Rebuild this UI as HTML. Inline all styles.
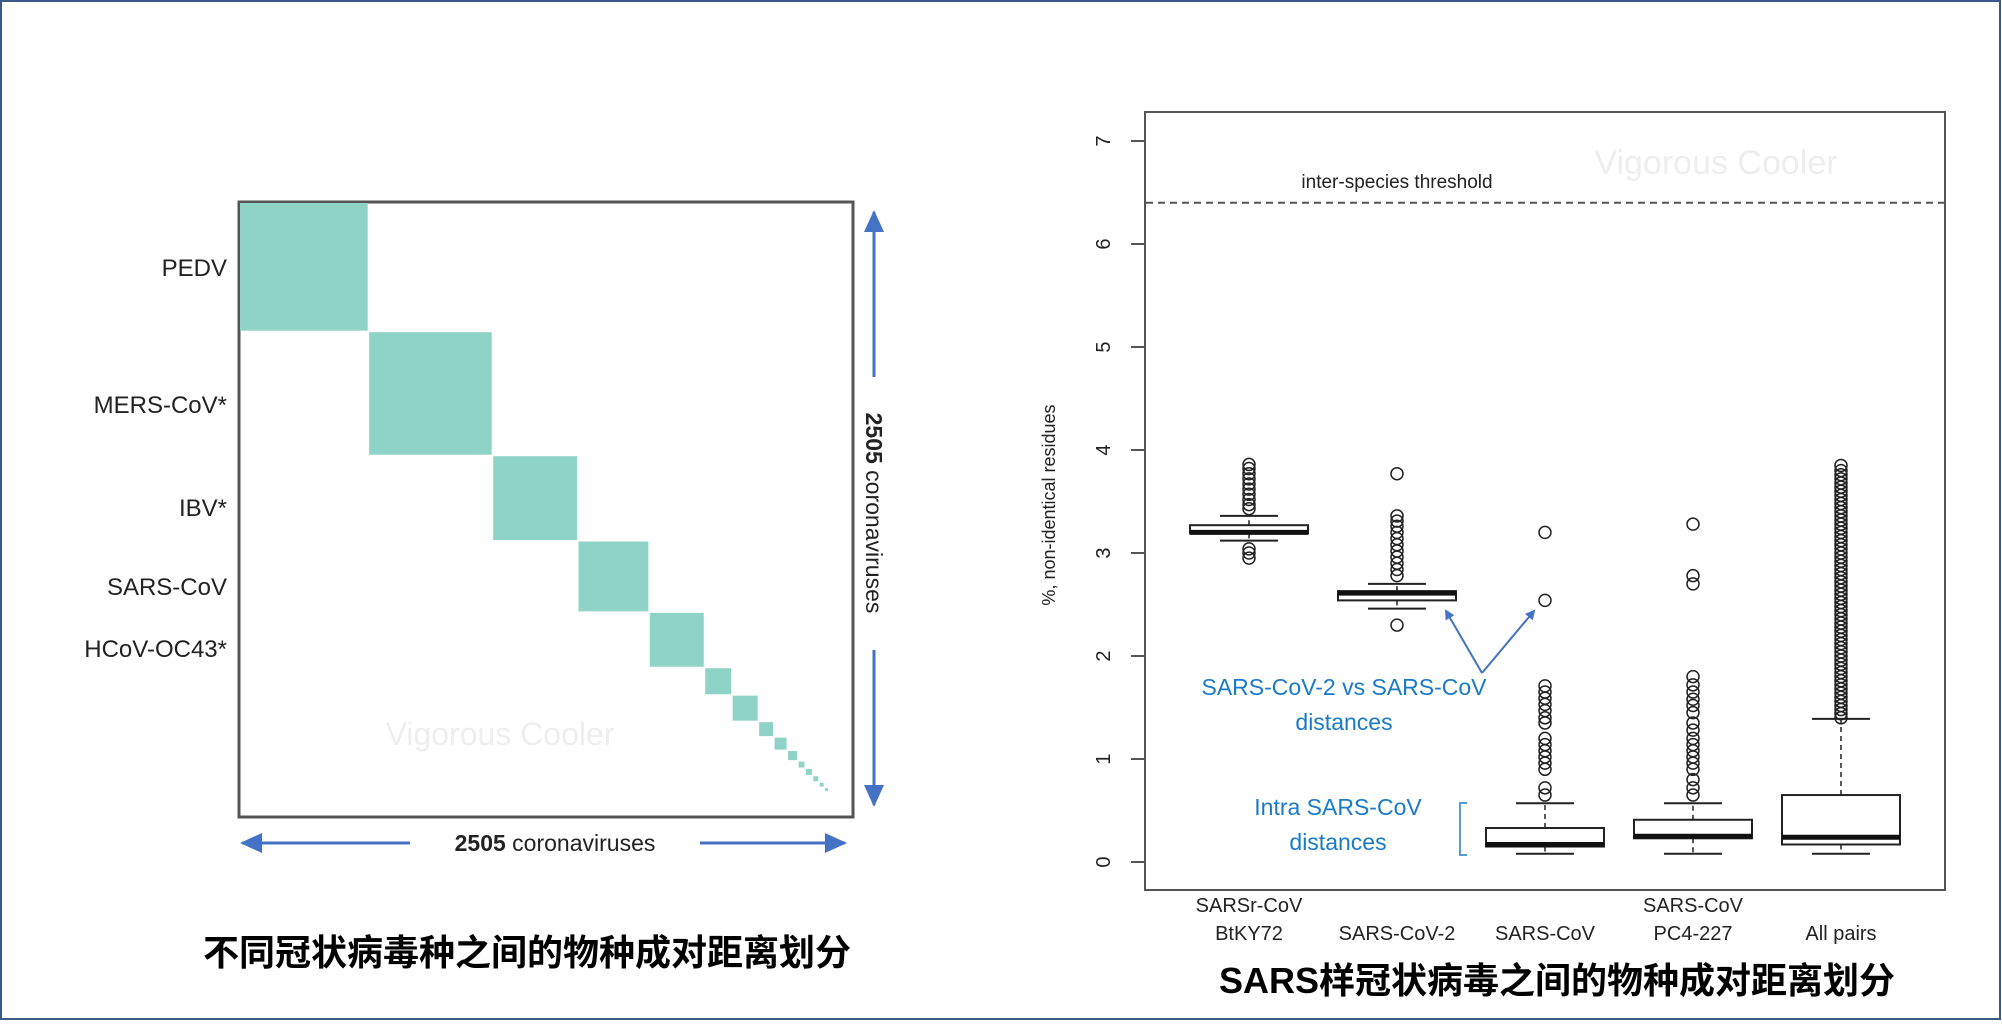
<!DOCTYPE html>
<html><head><meta charset="utf-8"><style>
html,body{margin:0;padding:0;background:#fff;}
svg{display:block;font-family:"Liberation Sans","Noto Sans CJK SC",sans-serif;}
</style></head><body>
<svg id="fig" width="2002" height="1026" viewBox="0 0 2002 1026" xmlns="http://www.w3.org/2000/svg">
<defs>
<marker id="ah" markerWidth="10" markerHeight="10" refX="8" refY="5" orient="auto" markerUnits="userSpaceOnUse"><path d="M0,0 L10,5 L0,10 z" fill="#4472c4"/></marker>
<marker id="ahb" markerWidth="24" markerHeight="24" refX="20" refY="10" orient="auto" markerUnits="userSpaceOnUse"><path d="M0,0 L22,10 L0,20 z" fill="#4472c4"/></marker>
</defs>
<rect x="1" y="1" width="1999" height="1018" fill="none" stroke="#3b5a8a" stroke-width="2"/>

<g id="left">
<rect x="239" y="202" width="614" height="615" fill="none" stroke="#555" stroke-width="3"/>
<g id="squares"></g>
<text x="227" y="276" text-anchor="end" font-size="24" fill="#222">PEDV</text>
<text x="227" y="413" text-anchor="end" font-size="24" fill="#222">MERS-CoV*</text>
<text x="227" y="516" text-anchor="end" font-size="24" fill="#222">IBV*</text>
<text x="227" y="595" text-anchor="end" font-size="24" fill="#222">SARS-CoV</text>
<text x="227" y="657" text-anchor="end" font-size="24" fill="#222">HCoV-OC43*</text>
<text x="500" y="745" text-anchor="middle" font-size="32" fill="#eee">Vigorous Cooler</text>
<line x1="874" y1="377" x2="874" y2="212" stroke="#4472c4" stroke-width="3" marker-end="url(#ahb)"/>
<line x1="874" y1="650" x2="874" y2="805" stroke="#4472c4" stroke-width="3" marker-end="url(#ahb)"/>
<text transform="translate(866,513) rotate(90)" text-anchor="middle" font-size="23" fill="#222"><tspan font-weight="bold">2505</tspan> coronaviruses</text>
<line x1="410" y1="843" x2="242" y2="843" stroke="#4472c4" stroke-width="3" marker-end="url(#ahb)"/>
<line x1="700" y1="843" x2="845" y2="843" stroke="#4472c4" stroke-width="3" marker-end="url(#ahb)"/>
<text x="555" y="851" text-anchor="middle" font-size="23" fill="#222"><tspan font-weight="bold">2505</tspan> coronaviruses</text>
<text x="527" y="965" text-anchor="middle" font-size="36" font-weight="bold" fill="#000">不同冠状病毒种之间的物种成对距离划分</text>
</g>

<g id="right">
<rect x="1145" y="112" width="800" height="778" fill="none" stroke="#555" stroke-width="2"/>
<text x="1716" y="174" text-anchor="middle" font-size="34" fill="#eee">Vigorous Cooler</text>
<g id="yaxis"></g>
<text transform="translate(1055,505) rotate(-90)" text-anchor="middle" font-size="18" fill="#222">%, non-identical residues</text>
<line id="thr" x1="1146" x2="1944" stroke="#555" stroke-width="2" stroke-dasharray="7,5"/>
<text x="1397" y="188" text-anchor="middle" font-size="19" fill="#222">inter-species threshold</text>
<g id="boxes"></g>
<g id="xlabels"></g>
<text x="1344" y="695" text-anchor="middle" font-size="23" fill="#1a7ac8">SARS-CoV-2 vs SARS-CoV</text>
<text x="1344" y="730" text-anchor="middle" font-size="23" fill="#1a7ac8">distances</text>
<text x="1338" y="815" text-anchor="middle" font-size="23" fill="#1a7ac8">Intra SARS-CoV</text>
<text x="1338" y="850" text-anchor="middle" font-size="23" fill="#1a7ac8">distances</text>
<path d="M1467,803 L1460,803 L1460,855 L1467,855" fill="none" stroke="#5b9bd5" stroke-width="2"/>
<line x1="1482" y1="673" x2="1446" y2="611" stroke="#4472c4" stroke-width="2" marker-end="url(#ah)"/>
<line x1="1482" y1="673" x2="1534" y2="611" stroke="#4472c4" stroke-width="2" marker-end="url(#ah)"/>
<text x="1557" y="993" text-anchor="middle" font-size="36" font-weight="bold" fill="#000">SARS样冠状病毒之间的物种成对距离划分</text>
</g>
</svg>
<script>
const NS="http://www.w3.org/2000/svg";
const blockSizes=[521,500,342,285,220,106,102,57,49,37,24,24,20,16,12];
const totalViruses=2505;
const categories=[["SARSr-CoV","BtKY72"],["SARS-CoV-2"],["SARS-CoV"],["SARS-CoV","PC4-227"],["All pairs"]];
const q1=[3.19,2.54,0.15,0.23,0.17];
const medians=[3.20,2.61,0.17,0.25,0.24];
const q3=[3.27,2.63,0.33,0.41,0.65];
const whiskLo=[3.12,2.46,0.08,0.08,0.08];
const whiskHi=[3.36,2.70,0.57,0.57,1.39];
const outliers=[
 [2.95,3.00,3.04,3.43,3.47,3.52,3.57,3.62,3.67,3.72,3.77,3.82,3.86],
 [2.30,2.78,2.84,2.90,2.96,3.02,3.08,3.14,3.20,3.26,3.31,3.36,3.77],
 [0.65,0.72,0.90,0.96,1.02,1.08,1.14,1.20,1.35,1.40,1.47,1.53,1.59,1.65,1.71,2.54,3.20],
 [0.65,0.72,0.80,0.90,0.96,1.02,1.08,1.14,1.20,1.28,1.35,1.45,1.52,1.58,1.65,1.72,1.80,2.70,2.78,3.28],
 [1.40,1.44,1.48,1.52,1.56,1.60,1.64,1.68,1.72,1.76,1.80,1.84,1.88,1.92,1.96,2.00,2.04,2.08,2.12,2.16,2.20,2.24,2.28,2.32,2.36,2.40,2.44,2.48,2.52,2.56,2.60,2.64,2.68,2.72,2.76,2.80,2.84,2.88,2.92,2.96,3.00,3.04,3.08,3.12,3.16,3.20,3.24,3.28,3.32,3.36,3.40,3.44,3.48,3.52,3.56,3.60,3.64,3.68,3.72,3.76,3.80,3.85]
];
const yTicks=[0,1,2,3,4,5,6,7];
const threshold=6.4;

function mk(tag,attrs,parent){const e=document.createElementNS(NS,tag);for(const k in attrs)e.setAttribute(k,attrs[k]);parent.appendChild(e);return e;}

const sqG=document.getElementById('squares');
const fx=239, fy=202, fw=614;
const scaleM=v=>v*fw/totalViruses;
let off=0;
blockSizes.forEach((s,i)=>{
  const w=scaleM(s);
  const r=mk('rect',{x:fx+1+scaleM(off),y:fy+1+scaleM(off),width:w,height:w,fill:'#8fd3c7'},sqG);
  
  
  off+=s+6;
});

const yScale=v=>862-v*103;
const xScale=i=>1249+i*148;
const ya=document.getElementById('yaxis');
mk('line',{x1:1145,x2:1145,y1:yScale(0),y2:yScale(7),stroke:'#555','stroke-width':2},ya);
yTicks.forEach(t=>{
  const l=mk('line',{x1:1131,x2:1145,y1:yScale(t),y2:yScale(t),stroke:'#555','stroke-width':2},ya);
  
  
  const tx=mk('text',{transform:`translate(1110,${yScale(t)}) rotate(-90)`,'text-anchor':'middle','font-size':20,fill:'#222'},ya);
  tx.textContent=t;
  
  
});
const thr=document.getElementById('thr');
thr.setAttribute('y1',yScale(threshold));thr.setAttribute('y2',yScale(threshold));

const bg=document.getElementById('boxes');
const xl=document.getElementById('xlabels');
const bw=118;
categories.forEach((c,i)=>{
  const cx=xScale(i);
  const g=mk('g',{},bg);
  
  
  mk('line',{x1:cx,x2:cx,y1:yScale(q3[i]),y2:yScale(whiskHi[i]),stroke:'#222','stroke-width':1.5,'stroke-dasharray':'5,4'},g);
  mk('line',{x1:cx,x2:cx,y1:yScale(q1[i]),y2:yScale(whiskLo[i]),stroke:'#222','stroke-width':1.5,'stroke-dasharray':'5,4'},g);
  mk('line',{x1:cx-29,x2:cx+29,y1:yScale(whiskHi[i]),y2:yScale(whiskHi[i]),stroke:'#222','stroke-width':2},g);
  mk('line',{x1:cx-29,x2:cx+29,y1:yScale(whiskLo[i]),y2:yScale(whiskLo[i]),stroke:'#222','stroke-width':2},g);
  mk('rect',{x:cx-bw/2,y:yScale(q3[i]),width:bw,height:yScale(q1[i])-yScale(q3[i]),fill:'#fff',stroke:'#222','stroke-width':2},g);
  mk('line',{x1:cx-bw/2,x2:cx+bw/2,y1:yScale(medians[i]),y2:yScale(medians[i]),stroke:'#111','stroke-width':5},g);
  outliers[i].forEach(v=>{
    const o=mk('circle',{cx:cx,cy:yScale(v),r:6,fill:'none',stroke:'#222','stroke-width':1.5},g);
    
    
  });
  c.forEach((ln,j)=>{
    const y=c.length===2?(j===0?912:940):940;
    const t=mk('text',{x:cx,y:y,'text-anchor':'middle','font-size':20,fill:'#222'},xl);
    t.textContent=ln;
    
    
  });
});
</script>
</body></html>
